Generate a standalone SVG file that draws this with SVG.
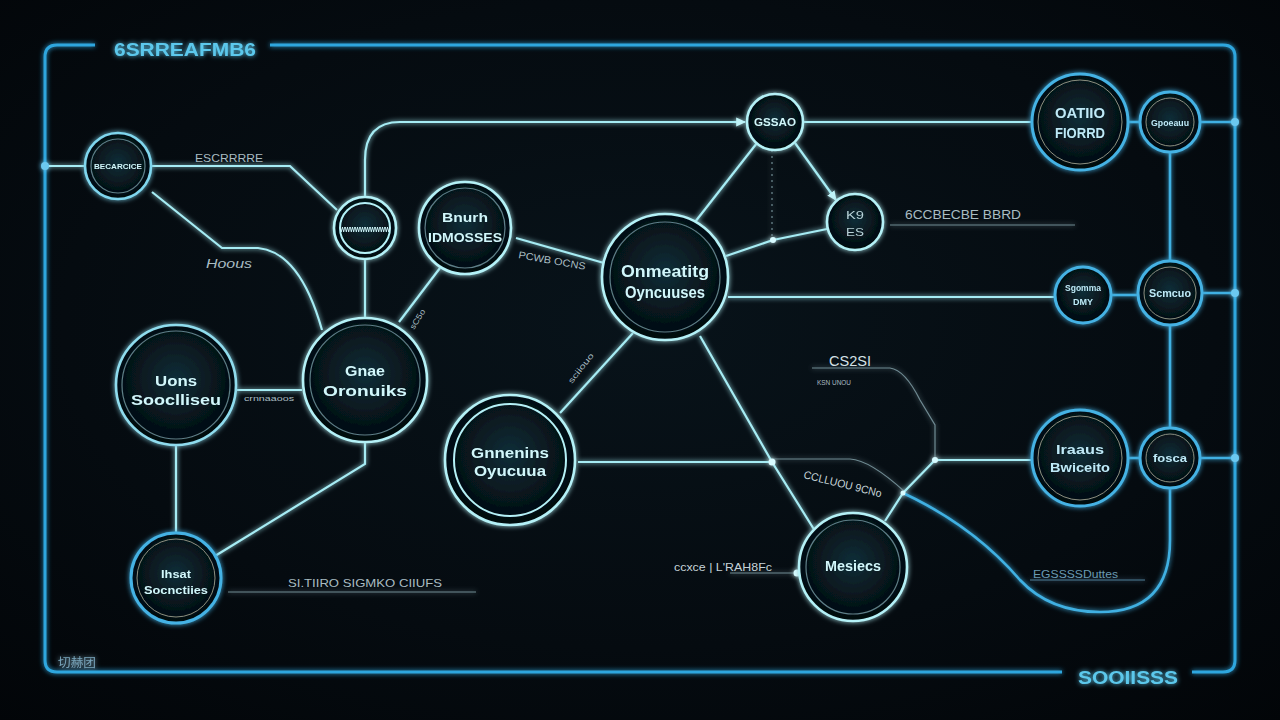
<svg xmlns="http://www.w3.org/2000/svg" width="1280" height="720" viewBox="0 0 1280 720">
<defs>
  <radialGradient id="bg" cx="50%" cy="45%" r="75%">
    <stop offset="0" stop-color="#08131a"/>
    <stop offset="0.6" stop-color="#050b10"/>
    <stop offset="1" stop-color="#020508"/>
  </radialGradient>
  <radialGradient id="nodefill" cx="50%" cy="45%" r="55%">
    <stop offset="0" stop-color="#0d2e38"/>
    <stop offset="0.7" stop-color="#061319"/>
    <stop offset="1" stop-color="#040a0e"/>
  </radialGradient>
  <filter id="glow" x="-30%" y="-30%" width="160%" height="160%">
    <feGaussianBlur stdDeviation="2.5" result="b"/>
    <feMerge><feMergeNode in="b"/><feMergeNode in="SourceGraphic"/></feMerge>
  </filter>
  <marker id="arr" viewBox="0 0 10 10" refX="8" refY="5" markerWidth="5" markerHeight="5" orient="auto">
    <path d="M0,1 L9,5 L0,9 z" fill="#bff3f8"/>
  </marker>
  <style>
    .frame{fill:none;stroke:#2fa6de;stroke-width:3}
    .ln{fill:none;stroke:#a6ecf4;stroke-width:2.2}
    .lnb{fill:none;stroke:#3fb0e2;stroke-width:2.6}
    .faint{fill:none;stroke:#6f8a92;stroke-width:1.2}
    .dot{fill:#d8fbff}
    .dotb{fill:#6cc8f0}
    .ring{fill:url(#nodefill);stroke:#b4f1f7;stroke-width:2.6}
    .ringb{fill:url(#nodefill);stroke:#44b2e4;stroke-width:3}
    .inner{fill:none;stroke:#5d7f88;stroke-width:1.2}
    .inner2{fill:none;stroke:#b4f1f7;stroke-width:2}
    .innerb{fill:none;stroke:#8a8f80;stroke-width:1}
    .nt{font-family:"Liberation Sans",Arial,sans-serif;font-weight:bold;fill:#d2f7fb;text-anchor:middle}
    .ntb{font-family:"Liberation Sans",Arial,sans-serif;font-weight:bold;fill:#bfe9f7;text-anchor:middle}
    .lb{font-family:"Liberation Sans",Arial,sans-serif;fill:#a9bcc2}
    .title{font-family:"Liberation Sans",Arial,sans-serif;font-weight:bold;fill:#5cc8ec;font-size:19px}
  </style>
</defs>
<rect width="1280" height="720" fill="url(#bg)"/>

<!-- frame -->
<g id="frame" filter="url(#glow)">
  <path class="frame" d="M95,45 L57,45 Q45,45 45,57 L45,660 Q45,672 57,672 L1062,672"/>
  <path class="frame" d="M270,45 L1223,45 Q1235,45 1235,57 L1235,660 Q1235,672 1223,672 L1192,672"/>
  <text class="title" x="114" y="56" textLength="142" lengthAdjust="spacingAndGlyphs">6SRREAFMB6</text>
  <text class="title" x="1078" y="684" textLength="100" lengthAdjust="spacingAndGlyphs">SOOIISSS</text>
  <text class="lb" x="58" y="667" font-size="12" style="fill:#7aa6bd;font-family:'Liberation Sans','Noto Sans CJK SC',sans-serif" textLength="38" lengthAdjust="spacingAndGlyphs">切赫团</text>
</g>

<!-- connectors -->
<g id="connectors" filter="url(#glow)">
  <path class="ln" d="M45,166 L85,166"/>
  <path class="ln" d="M151,166 L290,166 L337,210"/>
  <path class="ln" d="M152,192 L222,248 L258,248 Q300,252 322,330"/>
  <path class="ln" d="M365,197 L365,160 Q365,122 400,122 L745,122" marker-end="url(#arr)"/>
  <path class="ln" d="M365,259 L365,318"/>
  <path class="ln" d="M516,238 L604,263"/>
  <path class="ln" d="M440,268 L399,322"/>
  <path class="ln" d="M803,122 L1032,122"/>
  <path class="ln" d="M757,143 L695,222"/>
  <path class="ln" d="M795,143 L836,200" marker-end="url(#arr)"/>
  <path class="faint" d="M772,150 L772,240" stroke-dasharray="2 4"/>
  <path class="ln" d="M726,256 L773,240 L827,229"/>
  <path class="faint" d="M890,225 L1075,225"/>
  <path class="lnb" d="M1128,122 L1140,122"/>
  <path class="lnb" d="M1200,122 L1235,122"/>
  <path class="lnb" d="M1170,152 L1170,261"/>
  <path class="ln" d="M728,297 L1055,297"/>
  <path class="lnb" d="M1111,295 L1138,295"/>
  <path class="lnb" d="M1202,293 L1235,293"/>
  <path class="lnb" d="M1170,325 L1170,428"/>
  <path class="ln" d="M236,390 L302,390"/>
  <path class="ln" d="M176,445 L176,533"/>
  <path class="ln" d="M215,556 L365,464 L365,442"/>
  <path class="ln" d="M560,413 L633,333"/>
  <path class="ln" d="M700,336 L772,462 L815,531"/>
  <path class="ln" d="M578,462 L772,462"/>
  <path class="faint" d="M772,459 L850,459 Q870,460 905,492"/>
  <path class="ln" d="M885,521 L903,493 L935,460 L1032,460"/>
  <path class="faint" d="M812,368 L890,368 Q905,370 920,400 L935,425 L935,458"/>
  <path class="lnb" d="M903,493 C950,515 990,545 1020,580 Q1050,612 1100,612 Q1170,612 1170,540 L1170,488"/>
  <path class="lnb" d="M1128,458 L1140,458"/>
  <path class="lnb" d="M1200,458 L1235,458"/>
  <path class="faint" d="M730,573 L797,573"/>
  <path class="faint" d="M228,592 L476,592"/>
  <path class="faint" d="M1030,580 L1145,580" style="stroke:#4f7f98"/>
  <circle class="dotb" cx="45" cy="166" r="4"/>
  <circle class="dot" cx="773" cy="240" r="3"/>
  <circle class="dot" cx="772" cy="462" r="3.5"/>
  <circle class="dot" cx="935" cy="460" r="3"/>
  <circle class="dot" cx="903" cy="493" r="2.5"/>
  <circle class="dot" cx="797" cy="573" r="3.5"/>
  <circle class="dotb" cx="1235" cy="122" r="4"/>
  <circle class="dotb" cx="1235" cy="293" r="4"/>
  <circle class="dotb" cx="1235" cy="458" r="4"/>
</g>

<!-- labels -->
<g id="labels">
  <text class="lb" x="195" y="162" font-size="11" textLength="68" lengthAdjust="spacingAndGlyphs">ESCRRRRE</text>
  <text class="lb" x="206" y="268" font-size="12" font-style="italic" textLength="46" lengthAdjust="spacingAndGlyphs">Hoous</text>
  <text class="lb" x="244" y="401" font-size="7" textLength="50" lengthAdjust="spacingAndGlyphs">crnnaaoos</text>
  <text class="lb" x="518" y="258" font-size="10" transform="rotate(10 518 258)" textLength="68" lengthAdjust="spacingAndGlyphs">PCWB OCNS</text>
  <text class="lb" x="414" y="330" font-size="8" transform="rotate(-58 414 330)" textLength="22" lengthAdjust="spacingAndGlyphs">sC5o</text>
  <text class="lb" x="572" y="384" font-size="8" transform="rotate(-52 572 384)" textLength="36" lengthAdjust="spacingAndGlyphs">sciiouo</text>
  <text class="lb" x="829" y="366" font-size="14" textLength="42" lengthAdjust="spacingAndGlyphs" style="fill:#d5e2e6">CS2SI</text>
  <text class="lb" x="817" y="385" font-size="7" textLength="34" lengthAdjust="spacingAndGlyphs">KSN UNOU</text>
  <text class="lb" x="803" y="478" font-size="11" transform="rotate(14 803 478)" textLength="80" lengthAdjust="spacingAndGlyphs" style="fill:#c5d3d8">CCLLUOU 9CNo</text>
  <text class="lb" x="674" y="571" font-size="11" textLength="98" lengthAdjust="spacingAndGlyphs" style="fill:#c5d3d8">ccxce | L'RAH8Fc</text>
  <text class="lb" x="905" y="219" font-size="12" textLength="116" lengthAdjust="spacingAndGlyphs">6CCBECBE BBRD</text>
  <text class="lb" x="1033" y="578" font-size="10" textLength="85" lengthAdjust="spacingAndGlyphs" style="fill:#6a9ab2">EGSSSSDuttes</text>
  <text class="lb" x="288" y="587" font-size="11" textLength="154" lengthAdjust="spacingAndGlyphs">SI.TIIRO SIGMKO CIIUFS</text>
</g>

<!-- nodes -->
<g id="n1" filter="url(#glow)">
  <circle class="ring" cx="118" cy="166" r="33" style="stroke:#7fd6ee"/>
  <circle class="inner" cx="118" cy="166" r="27"/>
  <text class="nt" x="118" y="169" font-size="8" textLength="48" lengthAdjust="spacingAndGlyphs">BECARCICE</text>
</g>
<g id="n2" filter="url(#glow)">
  <circle class="ring" cx="365" cy="228" r="31"/>
  <circle class="inner2" cx="365" cy="228" r="25"/>
  <text class="nt" x="365" y="232" font-size="9" textLength="50" lengthAdjust="spacingAndGlyphs">wwwwwwwwww</text>
</g>
<g id="n3" filter="url(#glow)">
  <circle class="ring" cx="465" cy="228" r="46"/>
  <circle class="inner" cx="465" cy="228" r="40"/>
  <text class="nt" x="465" y="222" font-size="13" textLength="46" lengthAdjust="spacingAndGlyphs">Bnurh</text>
  <text class="nt" x="465" y="242" font-size="13" textLength="74" lengthAdjust="spacingAndGlyphs">IDMOSSES</text>
</g>
<g id="n4" filter="url(#glow)">
  <circle class="ring" cx="665" cy="277" r="63"/>
  <circle class="inner" cx="665" cy="277" r="55"/>
  <text class="nt" x="665" y="277" font-size="17" textLength="88" lengthAdjust="spacingAndGlyphs">Onmeatitg</text>
  <text class="nt" x="665" y="298" font-size="17" textLength="80" lengthAdjust="spacingAndGlyphs">Oyncuuses</text>
</g>
<g id="n5" filter="url(#glow)">
  <circle class="ring" cx="775" cy="122" r="28"/>
  <text class="nt" x="775" y="126" font-size="10" textLength="42" lengthAdjust="spacingAndGlyphs">GSSAO</text>
</g>
<g id="n6" filter="url(#glow)">
  <circle class="ring" cx="855" cy="222" r="28"/>
  <text class="nt" x="855" y="219" font-size="11" textLength="18" lengthAdjust="spacingAndGlyphs" style="fill:#b9d2d8;font-weight:normal">K9</text>
  <text class="nt" x="855" y="236" font-size="11" textLength="18" lengthAdjust="spacingAndGlyphs" style="fill:#b9d2d8;font-weight:normal">ES</text>
</g>
<g id="n7" filter="url(#glow)">
  <circle class="ringb" cx="1080" cy="122" r="48"/>
  <circle class="innerb" cx="1080" cy="122" r="42"/>
  <text class="ntb" x="1080" y="118" font-size="14" textLength="50" lengthAdjust="spacingAndGlyphs">OATIIO</text>
  <text class="ntb" x="1080" y="138" font-size="14" textLength="50" lengthAdjust="spacingAndGlyphs">FIORRD</text>
</g>
<g id="n8" filter="url(#glow)">
  <circle class="ringb" cx="1170" cy="122" r="30"/>
  <circle class="innerb" cx="1170" cy="122" r="24"/>
  <text class="ntb" x="1170" y="126" font-size="9" textLength="38" lengthAdjust="spacingAndGlyphs">Gpoeauu</text>
</g>
<g id="n9" filter="url(#glow)">
  <circle class="ringb" cx="1083" cy="295" r="28"/>
  <text class="ntb" x="1083" y="291" font-size="9" textLength="36" lengthAdjust="spacingAndGlyphs">Sgomma</text>
  <text class="ntb" x="1083" y="305" font-size="9" textLength="20" lengthAdjust="spacingAndGlyphs">DMY</text>
</g>
<g id="n10" filter="url(#glow)">
  <circle class="ringb" cx="1170" cy="293" r="32"/>
  <circle class="innerb" cx="1170" cy="293" r="26"/>
  <text class="ntb" x="1170" y="297" font-size="10" textLength="42" lengthAdjust="spacingAndGlyphs">Scmcuo</text>
</g>
<g id="n11" filter="url(#glow)">
  <circle class="ring" cx="176" cy="385" r="60" style="stroke:#8fdcee"/>
  <circle class="inner" cx="176" cy="385" r="54"/>
  <text class="nt" x="176" y="386" font-size="15" textLength="42" lengthAdjust="spacingAndGlyphs">Uons</text>
  <text class="nt" x="176" y="405" font-size="15" textLength="90" lengthAdjust="spacingAndGlyphs">Sooclliseu</text>
</g>
<g id="n12" filter="url(#glow)">
  <circle class="ring" cx="365" cy="380" r="62"/>
  <circle class="inner" cx="365" cy="380" r="55"/>
  <text class="nt" x="365" y="376" font-size="15" textLength="40" lengthAdjust="spacingAndGlyphs">Gnae</text>
  <text class="nt" x="365" y="396" font-size="15" textLength="84" lengthAdjust="spacingAndGlyphs">Oronuiks</text>
</g>
<g id="n13" filter="url(#glow)">
  <circle class="ring" cx="510" cy="460" r="65"/>
  <circle class="inner2" cx="510" cy="460" r="56"/>
  <text class="nt" x="510" y="458" font-size="14" textLength="78" lengthAdjust="spacingAndGlyphs">Gnnenins</text>
  <text class="nt" x="510" y="476" font-size="14" textLength="72" lengthAdjust="spacingAndGlyphs">Oyucuua</text>
</g>
<g id="n14" filter="url(#glow)">
  <circle class="ring" cx="853" cy="567" r="54"/>
  <circle class="inner" cx="853" cy="567" r="47"/>
  <text class="nt" x="853" y="571" font-size="14" textLength="56" lengthAdjust="spacingAndGlyphs">Mesiecs</text>
</g>
<g id="n15" filter="url(#glow)">
  <circle class="ringb" cx="1080" cy="458" r="48"/>
  <circle class="innerb" cx="1080" cy="458" r="42"/>
  <text class="ntb" x="1080" y="454" font-size="12" textLength="48" lengthAdjust="spacingAndGlyphs">Iraaus</text>
  <text class="ntb" x="1080" y="472" font-size="12" textLength="60" lengthAdjust="spacingAndGlyphs">Bwiceito</text>
</g>
<g id="n16" filter="url(#glow)">
  <circle class="ringb" cx="1170" cy="458" r="30"/>
  <circle class="innerb" cx="1170" cy="458" r="24"/>
  <text class="ntb" x="1170" y="462" font-size="10" textLength="34" lengthAdjust="spacingAndGlyphs">fosca</text>
</g>
<g id="n17" filter="url(#glow)">
  <circle class="ringb" cx="176" cy="578" r="45"/>
  <circle class="innerb" cx="176" cy="578" r="39"/>
  <text class="nt" x="176" y="578" font-size="11" textLength="30" lengthAdjust="spacingAndGlyphs">Ihsat</text>
  <text class="nt" x="176" y="594" font-size="11" textLength="64" lengthAdjust="spacingAndGlyphs">Socnctiies</text>
</g>
</svg>
